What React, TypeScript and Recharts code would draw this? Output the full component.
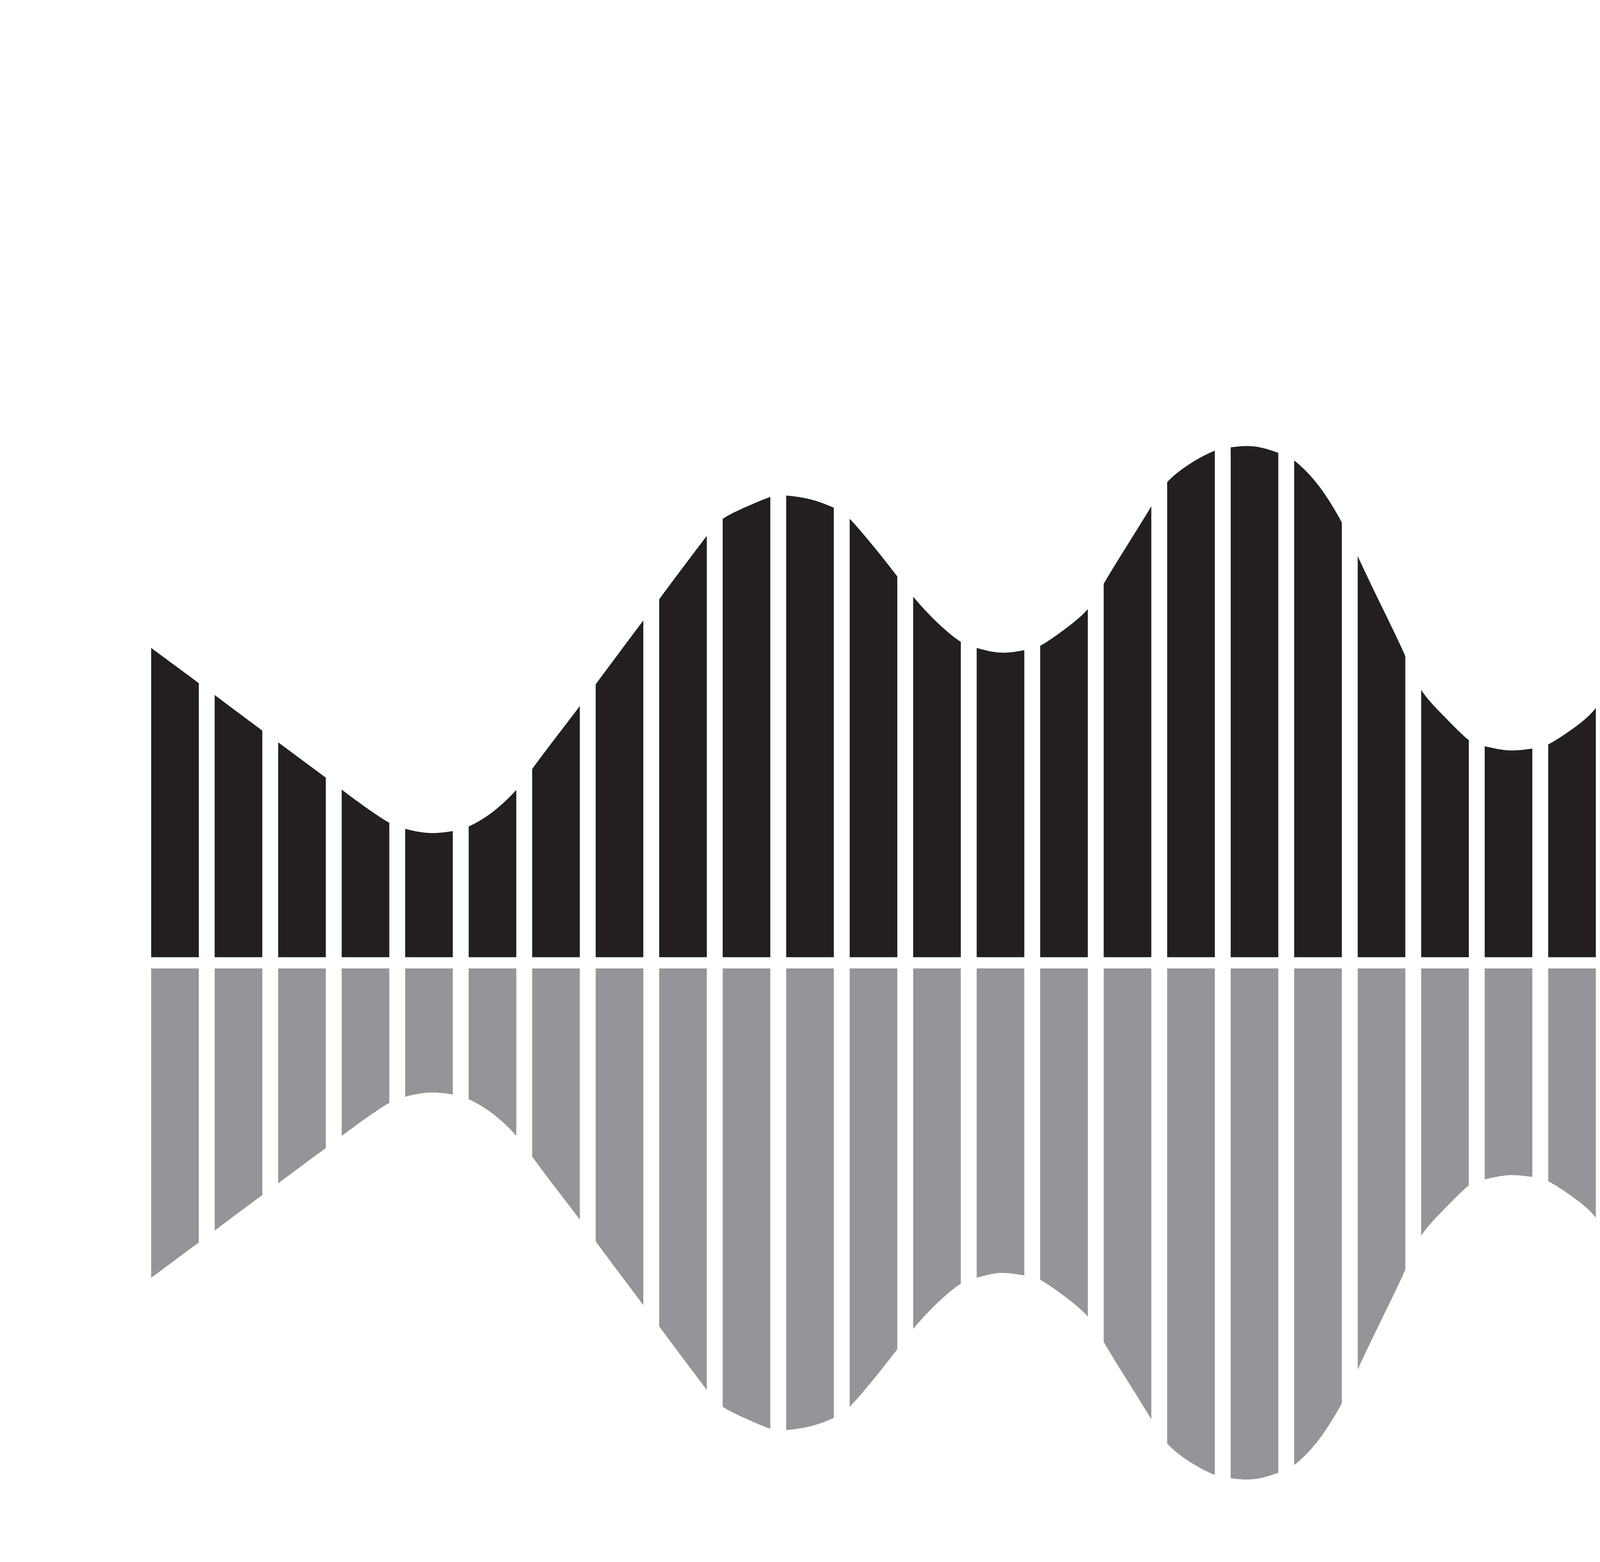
import { ComposedChart, Area, XAxis, YAxis, ReferenceArea } from 'recharts'

// height of the wave at the left edge, middle and right edge of each of the 26 bars
const leftTop = [
  247.5, 209.8, 171.9, 134.1, 102.7, 104.6, 150.6, 218.4, 286.4, 350.7, 369.4, 350.8, 288.4,
  247.5, 249.2, 298.8, 380.2, 408.0, 397.4, 321.0, 213.9, 168.8, 170.3, 219.3, 249.2, 239.7,
]
const midTop = [
  233.4, 195.5, 157.8, 120.1, 99.4, 116.1, 176.0, 244.0, 312.0, 360.5, 366.5, 328.8, 268.0,
  243.7, 262.0, 330.0, 395.4, 408.7, 378.0, 281.0, 192.0, 165.5, 182.4, 235.0, 249.9, 220.7,
]
const rightTop = [
  219.3, 181.3, 143.7, 107.6, 100.9, 133.9, 201.0, 269.4, 337.2, 368.3, 359.7, 304.7, 252.3,
  245.7, 278.6, 360.9, 405.3, 403.6, 347.9, 241.0, 173.7, 166.9, 199.4, 246.1, 245.5, 190.0,
]

const BAR_W = 0.75
const GAP = 9
const TOP_COLOR = '#231f20'
const BOTTOM_COLOR = '#939598'

const points = leftTop.flatMap((l, i) => [
  { x: i, h: l },
  { x: i + BAR_W / 2, h: midTop[i] },
  { x: i + BAR_W, h: rightTop[i] },
])

const data = points.map((p) => ({
  x: p.x,
  top: [0, p.h],
  bottom: [-GAP - p.h, -GAP],
}))

export default function App() {
  return (
    <div style={{ position: 'absolute', left: 0, top: 0, background: '#fff' }}>
      <ComposedChart
        width={5000}
        height={4000}
        data={data}
        margin={{ top: 0, right: 427, bottom: 0, left: 387 }}
      >
        <XAxis type="number" dataKey="x" domain={[0, leftTop.length - 1 + BAR_W]} hide />
        <YAxis type="number" domain={[-484, 766]} hide />
        <Area
          type="natural"
          dataKey="top"
          stroke="none"
          fill={TOP_COLOR}
          fillOpacity={1}
          dot={false}
          activeDot={false}
          isAnimationActive={false}
        />
        <Area
          type="natural"
          dataKey="bottom"
          stroke="none"
          fill={BOTTOM_COLOR}
          fillOpacity={1}
          dot={false}
          activeDot={false}
          isAnimationActive={false}
        />
        {leftTop.slice(1).map((_, i) => (
          <ReferenceArea
            key={i}
            x1={i + BAR_W}
            x2={i + 1}
            y1={-484}
            y2={766}
            fill="#ffffff"
            fillOpacity={1}
            stroke="none"
            zIndex={1000}
          />
        ))}
      </ComposedChart>
    </div>
  )
}
